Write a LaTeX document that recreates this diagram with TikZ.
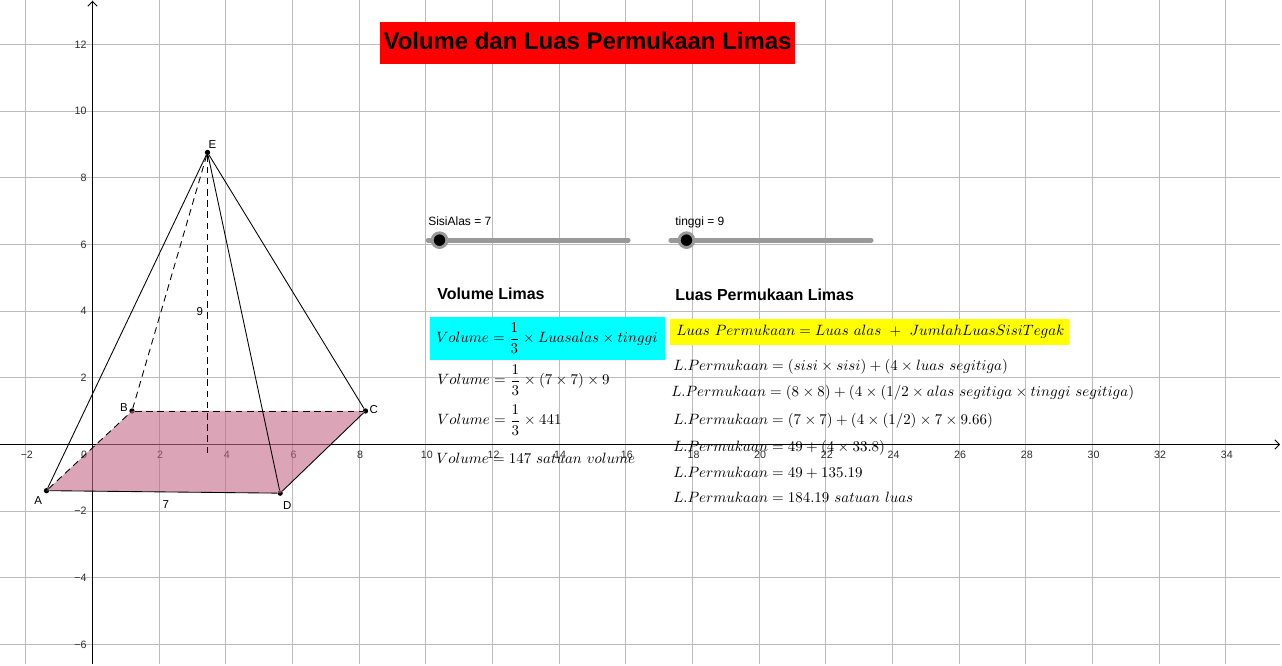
\documentclass[tikz,border=0pt]{standalone}
\usepackage{amsmath}
\usepackage[no-math]{fontspec}
\newfontfamily\sansfont{Liberation Sans}
\usetikzlibrary{arrows.meta}
\definecolor{garis}{RGB}{187,187,187}
\definecolor{alas}{RGB}{195,105,135}
\definecolor{geser}{RGB}{153,153,153}
\definecolor{angka}{RGB}{45,45,45}
\definecolor{kotakbiru}{RGB}{0,255,255}
\definecolor{kotakkuning}{RGB}{255,255,0}
\definecolor{kotakmerah}{RGB}{255,0,0}
\tikzset{
	sumbu/.style={black, line width=0.75pt, -{Straight Barb[length=3.5pt,width=7pt]}},
	angkasumbu/.style={angka, inner sep=0pt, font=\sansfont\fontsize{8}{8}\selectfont},
	titik/.style={circle, fill=black, inner sep=0pt, minimum size=4pt},
	namatitik/.style={inner sep=0pt, font=\sansfont\fontsize{8.6}{9}\selectfont},
	sisi/.style={black, line width=0.65pt},
	putus/.style={sisi, dash pattern=on 5pt off 3.4pt},
	judul/.style={inner sep=0pt, font=\sansfont\bfseries\fontsize{17.95}{20}\selectfont},
	subjudul/.style={anchor=base west, inner sep=0pt, font=\sansfont\bfseries\fontsize{12}{14}\selectfont},
	teksgeser/.style={anchor=base west, inner sep=0pt, font=\sansfont\fontsize{9}{10}\selectfont},
	rumus/.style={anchor=base west, inner sep=0pt, scale=1.12},
	batang/.style={geser, line width=3.6pt, line cap=round},
	tombol/.style={circle, fill=black, draw=geser, line width=2.2pt, inner sep=0pt, minimum size=11pt}
}

\begin{document}
\begin{tikzpicture}[x=25pt, y=25pt]

	\useasboundingbox (-2.775,-6.645) rectangle (35.685,13.335);
	\fill[white] (-2.775,-6.645) rectangle (35.685,13.335);

	% bidang koordinat
	\draw[garis, line width=0.75pt, step=2] (-2.775,-6.585) grid (35.63,13.335);
	\draw[sumbu] (-2.775,0)--(35.63,0);
	\draw[sumbu] (0,-6.585)--(0,13.31);
	\foreach \i in {2,4,...,34}
		\node[angkasumbu] (xl\i) at (\i+0.03,-0.32) {\i};
	\node[angkasumbu] (xlm2) at (-1.97,-0.32) {−2};
	\node[angkasumbu] (xl0) at (-0.255,-0.32) {0};
	\foreach \j in {2,4,...,12}
		\node[angkasumbu, anchor=east] (yl\j) at (-0.17,\j) {\j};
	\foreach \j in {2,4,6}
		\node[angkasumbu, anchor=east] (ylm\j) at (-0.17,-\j) {−\j};

	% limas
	\node[titik] (A) at (-1.38,-1.385) {};
	\node[titik] (B) at (1.185,1.005) {};
	\node[titik] (C) at (8.19,1.005) {};
	\node[titik] (D) at (5.63,-1.46) {};
	\node[titik] (E) at (3.45,8.76) {};
	\coordinate (F) at (3.45,-0.28);

	\fill[alas, opacity=0.6] (A.center)--(B.center)--(C.center)--(D.center)--cycle;
	\draw[putus] (A)--(B);
	\draw[putus] (B)--(C);
	\draw[sisi] (C)--(D);
	\draw[sisi] (D)--(A);
	\draw[sisi] (E)--(A);
	\draw[putus] (E)--(B);
	\draw[sisi] (E)--(C);
	\draw[sisi] (E)--(D);
	\draw[putus] (E)--(F);

	\node[namatitik] (lA) at (-1.63,-1.68) {A};
	\node[namatitik] (lB) at (0.94,1.1) {B};
	\node[namatitik] (lC) at (8.44,1.06) {C};
	\node[namatitik] (lD) at (5.84,-1.82) {D};
	\node[namatitik] (lE) at (3.6,9.01) {E};
	\node[namatitik] (tinggilimas) at (3.22,3.98) {9};
	\node[namatitik] (sisilimas) at (2.2,-1.81) {7};

	% judul
	\node[judul, fill=kotakmerah, minimum width=311pt, minimum height=31.5pt] (judul) at (14.85,12.045) {\raisebox{2.7pt}{Volume dan Luas Permukaan Limas}};

	% slider
	\node[teksgeser] (lSisiAlas) at (10.065,6.56) {SisiAlas = 7};
	\coordinate (s1) at (10.07,6.13);
	\coordinate (s2) at (16.07,6.13);
	\draw[batang] (s1)--(s2);
	\node[tombol] (tSisiAlas) at (10.41,6.13) {};

	\node[teksgeser] (ltinggi) at (17.475,6.56) {tinggi = 9};
	\coordinate (t1) at (17.35,6.13);
	\coordinate (t2) at (23.36,6.13);
	\draw[batang] (t1)--(t2);
	\node[tombol] (ttinggi) at (17.82,6.13) {};

	% volume
	\node[subjudul] (hVolume) at (10.335,4.35) {Volume Limas};
	\node[fill=kotakbiru, minimum width=176pt, minimum height=32pt, inner sep=0pt] (kotakVolume) at (13.65,3.18) {};
	\node[rumus] (v1) at (10.305,3.045) {$Volume = \dfrac{1}{3} \times Luasalas \times tinggi$};
	\node[rumus] (v2) at (10.335,1.785) {$Volume = \dfrac{1}{3} \times (7 \times 7) \times 9$};
	\node[rumus] (v3) at (10.335,0.585) {$Volume = \dfrac{1}{3} \times 441$};
	\node[rumus] (v4) at (10.305,-0.56) {$Volume = 147\ satuan\ volume$};

	% luas
	\node[subjudul] (hLuas) at (17.475,4.305) {Luas Permukaan Limas};
	\node[fill=kotakkuning, minimum width=299pt, minimum height=19.5pt, inner sep=0pt] (kotakLuas) at (23.31,3.375) {};
	\node[rumus] (l0) at (17.505,3.255) {$Luas\ Permukaan = Luas\ alas\ +\ JumlahLuasSisiTegak$};
	\node[rumus] (l1) at (17.415,2.205) {$L.Permukaan = (sisi \times sisi) + (4 \times luas\ segitiga)$};
	\node[rumus] (l2) at (17.355,1.434) {$L.Permukaan = (8 \times 8) + (4 \times (1/2 \times alas\ segitiga \times tinggi\ segitiga)$};
	\node[rumus] (l3) at (17.415,0.585) {$L.Permukaan = (7 \times 7) + (4 \times (1/2) \times 7 \times 9.66)$};
	\node[rumus] (l4) at (17.415,-0.216) {$L.Permukaan = 49 + (4 \times 33.8)$};
	\node[rumus] (l5) at (17.415,-0.984) {$L.Permukaan = 49 + 135.19$};
	\node[rumus] (l6) at (17.415,-1.746) {$L.Permukaan = 184.19\ satuan\ luas$};

\end{tikzpicture}
\end{document}
